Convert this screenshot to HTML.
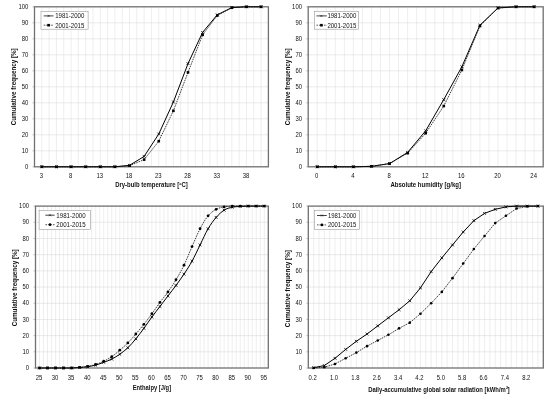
<!DOCTYPE html>
<html><head><meta charset="utf-8"><title>Cumulative frequency charts</title>
<style>
html,body{margin:0;padding:0;background:#fff;}
body{width:550px;height:402px;overflow:hidden;}
svg{display:block;font-family:"Liberation Sans", sans-serif;}
</style></head>
<body>
<svg width="550" height="402" viewBox="0 0 550 402">
<rect width="550" height="402" fill="#fff"/>
<path d="M41.81 6.80 V166.80 M49.12 6.80 V166.80 M56.43 6.80 V166.80 M63.74 6.80 V166.80 M71.05 6.80 V166.80 M78.36 6.80 V166.80 M85.67 6.80 V166.80 M92.97 6.80 V166.80 M100.28 6.80 V166.80 M107.59 6.80 V166.80 M114.90 6.80 V166.80 M122.21 6.80 V166.80 M129.52 6.80 V166.80 M136.83 6.80 V166.80 M144.14 6.80 V166.80 M151.45 6.80 V166.80 M158.76 6.80 V166.80 M166.07 6.80 V166.80 M173.38 6.80 V166.80 M180.69 6.80 V166.80 M188.00 6.80 V166.80 M195.31 6.80 V166.80 M202.62 6.80 V166.80 M209.92 6.80 V166.80 M217.23 6.80 V166.80 M224.54 6.80 V166.80 M231.85 6.80 V166.80 M239.16 6.80 V166.80 M246.47 6.80 V166.80 M253.78 6.80 V166.80 M261.09 6.80 V166.80" stroke="#e3e3e3" stroke-width="0.6" fill="none"/>
<path d="M34.50 22.80 H268.40 M34.50 38.80 H268.40 M34.50 54.80 H268.40 M34.50 70.80 H268.40 M34.50 86.80 H268.40 M34.50 102.80 H268.40 M34.50 118.80 H268.40 M34.50 134.80 H268.40 M34.50 150.80 H268.40" stroke="#dadada" stroke-width="0.6" fill="none"/>
<path d="M32.50 6.80 H34.50 M32.50 22.80 H34.50 M32.50 38.80 H34.50 M32.50 54.80 H34.50 M32.50 70.80 H34.50 M32.50 86.80 H34.50 M32.50 102.80 H34.50 M32.50 118.80 H34.50 M32.50 134.80 H34.50 M32.50 150.80 H34.50 M32.50 166.80 H34.50" stroke="#999" stroke-width="0.6" fill="none"/>
<rect x="34.50" y="6.80" width="233.90" height="160.00" fill="none" stroke="#707070" stroke-width="1.3"/>
<text x="28.30" y="9.00" text-anchor="end" font-size="6.40" fill="#111" textLength="9.90" lengthAdjust="spacingAndGlyphs">100</text>
<text x="28.30" y="25.00" text-anchor="end" font-size="6.40" fill="#111" textLength="6.60" lengthAdjust="spacingAndGlyphs">90</text>
<text x="28.30" y="41.00" text-anchor="end" font-size="6.40" fill="#111" textLength="6.60" lengthAdjust="spacingAndGlyphs">80</text>
<text x="28.30" y="57.00" text-anchor="end" font-size="6.40" fill="#111" textLength="6.60" lengthAdjust="spacingAndGlyphs">70</text>
<text x="28.30" y="73.00" text-anchor="end" font-size="6.40" fill="#111" textLength="6.60" lengthAdjust="spacingAndGlyphs">60</text>
<text x="28.30" y="89.00" text-anchor="end" font-size="6.40" fill="#111" textLength="6.60" lengthAdjust="spacingAndGlyphs">50</text>
<text x="28.30" y="105.00" text-anchor="end" font-size="6.40" fill="#111" textLength="6.60" lengthAdjust="spacingAndGlyphs">40</text>
<text x="28.30" y="121.00" text-anchor="end" font-size="6.40" fill="#111" textLength="6.60" lengthAdjust="spacingAndGlyphs">30</text>
<text x="28.30" y="137.00" text-anchor="end" font-size="6.40" fill="#111" textLength="6.60" lengthAdjust="spacingAndGlyphs">20</text>
<text x="28.30" y="153.00" text-anchor="end" font-size="6.40" fill="#111" textLength="6.60" lengthAdjust="spacingAndGlyphs">10</text>
<text x="28.30" y="169.00" text-anchor="end" font-size="6.40" fill="#111" textLength="3.30" lengthAdjust="spacingAndGlyphs">0</text>
<text x="41.31" y="178.00" text-anchor="middle" font-size="6.40" fill="#111" textLength="3.30" lengthAdjust="spacingAndGlyphs">3</text>
<text x="70.55" y="178.00" text-anchor="middle" font-size="6.40" fill="#111" textLength="3.30" lengthAdjust="spacingAndGlyphs">8</text>
<text x="99.78" y="178.00" text-anchor="middle" font-size="6.40" fill="#111" textLength="6.60" lengthAdjust="spacingAndGlyphs">13</text>
<text x="129.02" y="178.00" text-anchor="middle" font-size="6.40" fill="#111" textLength="6.60" lengthAdjust="spacingAndGlyphs">18</text>
<text x="158.26" y="178.00" text-anchor="middle" font-size="6.40" fill="#111" textLength="6.60" lengthAdjust="spacingAndGlyphs">23</text>
<text x="187.50" y="178.00" text-anchor="middle" font-size="6.40" fill="#111" textLength="6.60" lengthAdjust="spacingAndGlyphs">28</text>
<text x="216.73" y="178.00" text-anchor="middle" font-size="6.40" fill="#111" textLength="6.60" lengthAdjust="spacingAndGlyphs">33</text>
<text x="245.97" y="178.00" text-anchor="middle" font-size="6.40" fill="#111" textLength="6.60" lengthAdjust="spacingAndGlyphs">38</text>
<text x="151.45" y="186.60" text-anchor="middle" font-size="6.40" font-weight="bold" fill="#111" textLength="72.5" lengthAdjust="spacingAndGlyphs">Dry-bulb temperature [&#186;C]</text>
<text transform="translate(16.20 86.80) rotate(-90)" text-anchor="middle" font-size="6.40" font-weight="bold" fill="#111" textLength="77" lengthAdjust="spacingAndGlyphs">Cumulative frequency [%]</text>
<path d="M41.81 166.80 L56.43 166.80 L71.05 166.80 L85.67 166.80 L100.28 166.80 L114.90 166.80 L129.52 165.36 L144.14 156.40 L158.76 134.00 L173.38 102.00 L188.00 63.60 L202.62 32.40 L217.23 14.80 L231.85 7.60 L246.47 6.80 L261.09 6.80" stroke="#000" stroke-width="1" fill="none" stroke-linejoin="round"/>
<path d="M41.81 166.80 L56.43 166.80 L71.05 166.80 L85.67 166.80 L100.28 166.80 L114.90 166.80 L129.52 165.68 L144.14 159.60 L158.76 141.20 L173.38 110.80 L188.00 72.40 L202.62 34.80 L217.23 15.60 L231.85 7.76 L246.47 6.80 L261.09 6.80" stroke="#111" stroke-width="0.8" fill="none" stroke-dasharray="1.6 0.9" stroke-linejoin="round"/>
<path d="M40.41 165.40 l2.80 2.80 M40.41 168.20 l2.80 -2.80 M55.03 165.40 l2.80 2.80 M55.03 168.20 l2.80 -2.80 M69.65 165.40 l2.80 2.80 M69.65 168.20 l2.80 -2.80 M84.27 165.40 l2.80 2.80 M84.27 168.20 l2.80 -2.80 M98.88 165.40 l2.80 2.80 M98.88 168.20 l2.80 -2.80 M113.50 165.40 l2.80 2.80 M113.50 168.20 l2.80 -2.80 M128.12 163.96 l2.80 2.80 M128.12 166.76 l2.80 -2.80 M142.74 155.00 l2.80 2.80 M142.74 157.80 l2.80 -2.80 M157.36 132.60 l2.80 2.80 M157.36 135.40 l2.80 -2.80 M171.98 100.60 l2.80 2.80 M171.98 103.40 l2.80 -2.80 M186.60 62.20 l2.80 2.80 M186.60 65.00 l2.80 -2.80 M201.22 31.00 l2.80 2.80 M201.22 33.80 l2.80 -2.80 M215.83 13.40 l2.80 2.80 M215.83 16.20 l2.80 -2.80 M230.45 6.20 l2.80 2.80 M230.45 9.00 l2.80 -2.80 M245.07 5.40 l2.80 2.80 M245.07 8.20 l2.80 -2.80 M259.69 5.40 l2.80 2.80 M259.69 8.20 l2.80 -2.80" stroke="#000" stroke-width="0.8" fill="none"/>
<rect x="40.51" y="165.50" width="2.6" height="2.6" fill="#000"/>
<rect x="55.13" y="165.50" width="2.6" height="2.6" fill="#000"/>
<rect x="69.75" y="165.50" width="2.6" height="2.6" fill="#000"/>
<rect x="84.37" y="165.50" width="2.6" height="2.6" fill="#000"/>
<rect x="98.98" y="165.50" width="2.6" height="2.6" fill="#000"/>
<rect x="113.60" y="165.50" width="2.6" height="2.6" fill="#000"/>
<rect x="128.22" y="164.38" width="2.6" height="2.6" fill="#000"/>
<rect x="142.84" y="158.30" width="2.6" height="2.6" fill="#000"/>
<rect x="157.46" y="139.90" width="2.6" height="2.6" fill="#000"/>
<rect x="172.08" y="109.50" width="2.6" height="2.6" fill="#000"/>
<rect x="186.70" y="71.10" width="2.6" height="2.6" fill="#000"/>
<rect x="201.32" y="33.50" width="2.6" height="2.6" fill="#000"/>
<rect x="215.93" y="14.30" width="2.6" height="2.6" fill="#000"/>
<rect x="230.55" y="6.46" width="2.6" height="2.6" fill="#000"/>
<rect x="245.17" y="5.50" width="2.6" height="2.6" fill="#000"/>
<rect x="259.79" y="5.50" width="2.6" height="2.6" fill="#000"/>
<rect x="41.00" y="11.30" width="47.10" height="17.90" fill="#fff" stroke="#9a9a9a" stroke-width="0.6"/>
<path d="M43.70 15.90 H53.50" stroke="#111" stroke-width="0.8"/>
<path d="M43.70 25.20 H53.50" stroke="#111" stroke-width="0.7" stroke-dasharray="1.6 0.9"/>
<path d="M47.60 14.90 l2 2 M47.60 16.90 l2 -2" stroke="#111" stroke-width="0.55"/>
<rect x="47.30" y="23.90" width="2.6" height="2.6" fill="#000"/>
<text x="55.20" y="18.40" font-size="7.10" fill="#111" textLength="29.10" lengthAdjust="spacingAndGlyphs">1981-2000</text>
<text x="55.20" y="27.70" font-size="7.10" fill="#111" textLength="29.10" lengthAdjust="spacingAndGlyphs">2001-2015</text>
<path d="M317.24 6.80 V166.80 M326.28 6.80 V166.80 M335.32 6.80 V166.80 M344.35 6.80 V166.80 M353.39 6.80 V166.80 M362.43 6.80 V166.80 M371.47 6.80 V166.80 M380.51 6.80 V166.80 M389.55 6.80 V166.80 M398.58 6.80 V166.80 M407.62 6.80 V166.80 M416.66 6.80 V166.80 M425.70 6.80 V166.80 M434.74 6.80 V166.80 M443.78 6.80 V166.80 M452.82 6.80 V166.80 M461.85 6.80 V166.80 M470.89 6.80 V166.80 M479.93 6.80 V166.80 M488.97 6.80 V166.80 M498.01 6.80 V166.80 M507.05 6.80 V166.80 M516.08 6.80 V166.80 M525.12 6.80 V166.80 M534.16 6.80 V166.80" stroke="#e3e3e3" stroke-width="0.6" fill="none"/>
<path d="M308.20 22.80 H543.20 M308.20 38.80 H543.20 M308.20 54.80 H543.20 M308.20 70.80 H543.20 M308.20 86.80 H543.20 M308.20 102.80 H543.20 M308.20 118.80 H543.20 M308.20 134.80 H543.20 M308.20 150.80 H543.20" stroke="#dadada" stroke-width="0.6" fill="none"/>
<path d="M306.20 6.80 H308.20 M306.20 22.80 H308.20 M306.20 38.80 H308.20 M306.20 54.80 H308.20 M306.20 70.80 H308.20 M306.20 86.80 H308.20 M306.20 102.80 H308.20 M306.20 118.80 H308.20 M306.20 134.80 H308.20 M306.20 150.80 H308.20 M306.20 166.80 H308.20" stroke="#999" stroke-width="0.6" fill="none"/>
<rect x="308.20" y="6.80" width="235.00" height="160.00" fill="none" stroke="#707070" stroke-width="1.3"/>
<text x="302.00" y="9.00" text-anchor="end" font-size="6.40" fill="#111" textLength="9.90" lengthAdjust="spacingAndGlyphs">100</text>
<text x="302.00" y="25.00" text-anchor="end" font-size="6.40" fill="#111" textLength="6.60" lengthAdjust="spacingAndGlyphs">90</text>
<text x="302.00" y="41.00" text-anchor="end" font-size="6.40" fill="#111" textLength="6.60" lengthAdjust="spacingAndGlyphs">80</text>
<text x="302.00" y="57.00" text-anchor="end" font-size="6.40" fill="#111" textLength="6.60" lengthAdjust="spacingAndGlyphs">70</text>
<text x="302.00" y="73.00" text-anchor="end" font-size="6.40" fill="#111" textLength="6.60" lengthAdjust="spacingAndGlyphs">60</text>
<text x="302.00" y="89.00" text-anchor="end" font-size="6.40" fill="#111" textLength="6.60" lengthAdjust="spacingAndGlyphs">50</text>
<text x="302.00" y="105.00" text-anchor="end" font-size="6.40" fill="#111" textLength="6.60" lengthAdjust="spacingAndGlyphs">40</text>
<text x="302.00" y="121.00" text-anchor="end" font-size="6.40" fill="#111" textLength="6.60" lengthAdjust="spacingAndGlyphs">30</text>
<text x="302.00" y="137.00" text-anchor="end" font-size="6.40" fill="#111" textLength="6.60" lengthAdjust="spacingAndGlyphs">20</text>
<text x="302.00" y="153.00" text-anchor="end" font-size="6.40" fill="#111" textLength="6.60" lengthAdjust="spacingAndGlyphs">10</text>
<text x="302.00" y="169.00" text-anchor="end" font-size="6.40" fill="#111" textLength="3.30" lengthAdjust="spacingAndGlyphs">0</text>
<text x="316.74" y="178.00" text-anchor="middle" font-size="6.40" fill="#111" textLength="3.30" lengthAdjust="spacingAndGlyphs">0</text>
<text x="352.89" y="178.00" text-anchor="middle" font-size="6.40" fill="#111" textLength="3.30" lengthAdjust="spacingAndGlyphs">4</text>
<text x="389.05" y="178.00" text-anchor="middle" font-size="6.40" fill="#111" textLength="3.30" lengthAdjust="spacingAndGlyphs">8</text>
<text x="425.20" y="178.00" text-anchor="middle" font-size="6.40" fill="#111" textLength="6.60" lengthAdjust="spacingAndGlyphs">12</text>
<text x="461.35" y="178.00" text-anchor="middle" font-size="6.40" fill="#111" textLength="6.60" lengthAdjust="spacingAndGlyphs">16</text>
<text x="497.51" y="178.00" text-anchor="middle" font-size="6.40" fill="#111" textLength="6.60" lengthAdjust="spacingAndGlyphs">20</text>
<text x="533.66" y="178.00" text-anchor="middle" font-size="6.40" fill="#111" textLength="6.60" lengthAdjust="spacingAndGlyphs">24</text>
<text x="425.70" y="186.60" text-anchor="middle" font-size="6.40" font-weight="bold" fill="#111" textLength="70.5" lengthAdjust="spacingAndGlyphs">Absolute humidity [g/kg]</text>
<text transform="translate(289.50 86.80) rotate(-90)" text-anchor="middle" font-size="6.40" font-weight="bold" fill="#111" textLength="77" lengthAdjust="spacingAndGlyphs">Cumulative frequency [%]</text>
<path d="M317.24 166.80 L335.32 166.80 L353.39 166.80 L371.47 166.32 L389.55 163.60 L407.62 152.40 L425.70 130.80 L443.78 99.60 L461.85 66.80 L479.93 25.20 L498.01 7.92 L516.08 6.80 L534.16 6.80" stroke="#000" stroke-width="1" fill="none" stroke-linejoin="round"/>
<path d="M317.24 166.80 L335.32 166.80 L353.39 166.80 L371.47 166.32 L389.55 163.60 L407.62 153.20 L425.70 133.20 L443.78 106.00 L461.85 70.00 L479.93 26.00 L498.01 8.08 L516.08 6.80 L534.16 6.80" stroke="#111" stroke-width="0.8" fill="none" stroke-dasharray="1.6 0.9" stroke-linejoin="round"/>
<path d="M315.84 165.40 l2.80 2.80 M315.84 168.20 l2.80 -2.80 M333.92 165.40 l2.80 2.80 M333.92 168.20 l2.80 -2.80 M351.99 165.40 l2.80 2.80 M351.99 168.20 l2.80 -2.80 M370.07 164.92 l2.80 2.80 M370.07 167.72 l2.80 -2.80 M388.15 162.20 l2.80 2.80 M388.15 165.00 l2.80 -2.80 M406.22 151.00 l2.80 2.80 M406.22 153.80 l2.80 -2.80 M424.30 129.40 l2.80 2.80 M424.30 132.20 l2.80 -2.80 M442.38 98.20 l2.80 2.80 M442.38 101.00 l2.80 -2.80 M460.45 65.40 l2.80 2.80 M460.45 68.20 l2.80 -2.80 M478.53 23.80 l2.80 2.80 M478.53 26.60 l2.80 -2.80 M496.61 6.52 l2.80 2.80 M496.61 9.32 l2.80 -2.80 M514.68 5.40 l2.80 2.80 M514.68 8.20 l2.80 -2.80 M532.76 5.40 l2.80 2.80 M532.76 8.20 l2.80 -2.80" stroke="#000" stroke-width="0.8" fill="none"/>
<rect x="315.94" y="165.50" width="2.6" height="2.6" fill="#000"/>
<rect x="334.02" y="165.50" width="2.6" height="2.6" fill="#000"/>
<rect x="352.09" y="165.50" width="2.6" height="2.6" fill="#000"/>
<rect x="370.17" y="165.02" width="2.6" height="2.6" fill="#000"/>
<rect x="388.25" y="162.30" width="2.6" height="2.6" fill="#000"/>
<rect x="406.32" y="151.90" width="2.6" height="2.6" fill="#000"/>
<rect x="424.40" y="131.90" width="2.6" height="2.6" fill="#000"/>
<rect x="442.48" y="104.70" width="2.6" height="2.6" fill="#000"/>
<rect x="460.55" y="68.70" width="2.6" height="2.6" fill="#000"/>
<rect x="478.63" y="24.70" width="2.6" height="2.6" fill="#000"/>
<rect x="496.71" y="6.78" width="2.6" height="2.6" fill="#000"/>
<rect x="514.78" y="5.50" width="2.6" height="2.6" fill="#000"/>
<rect x="532.86" y="5.50" width="2.6" height="2.6" fill="#000"/>
<rect x="314.30" y="11.30" width="44.40" height="17.90" fill="#fff" stroke="#9a9a9a" stroke-width="0.6"/>
<path d="M316.50 15.90 H326.80" stroke="#111" stroke-width="0.8"/>
<path d="M316.50 25.20 H326.80" stroke="#111" stroke-width="0.7" stroke-dasharray="1.6 0.9"/>
<path d="M320.40 14.90 l2 2 M320.40 16.90 l2 -2" stroke="#111" stroke-width="0.55"/>
<rect x="320.10" y="23.90" width="2.6" height="2.6" fill="#000"/>
<text x="327.40" y="18.40" font-size="7.10" fill="#111" textLength="28.90" lengthAdjust="spacingAndGlyphs">1981-2000</text>
<text x="327.40" y="27.70" font-size="7.10" fill="#111" textLength="28.90" lengthAdjust="spacingAndGlyphs">2001-2015</text>
<path d="M39.51 206.10 V368.00 M43.53 206.10 V368.00 M47.54 206.10 V368.00 M51.56 206.10 V368.00 M55.57 206.10 V368.00 M59.58 206.10 V368.00 M63.60 206.10 V368.00 M67.61 206.10 V368.00 M71.62 206.10 V368.00 M75.64 206.10 V368.00 M79.65 206.10 V368.00 M83.67 206.10 V368.00 M87.68 206.10 V368.00 M91.69 206.10 V368.00 M95.71 206.10 V368.00 M99.72 206.10 V368.00 M103.73 206.10 V368.00 M107.75 206.10 V368.00 M111.76 206.10 V368.00 M115.78 206.10 V368.00 M119.79 206.10 V368.00 M123.80 206.10 V368.00 M127.82 206.10 V368.00 M131.83 206.10 V368.00 M135.84 206.10 V368.00 M139.86 206.10 V368.00 M143.87 206.10 V368.00 M147.89 206.10 V368.00 M151.90 206.10 V368.00 M155.91 206.10 V368.00 M159.93 206.10 V368.00 M163.94 206.10 V368.00 M167.96 206.10 V368.00 M171.97 206.10 V368.00 M175.98 206.10 V368.00 M180.00 206.10 V368.00 M184.01 206.10 V368.00 M188.02 206.10 V368.00 M192.04 206.10 V368.00 M196.05 206.10 V368.00 M200.07 206.10 V368.00 M204.08 206.10 V368.00 M208.09 206.10 V368.00 M212.11 206.10 V368.00 M216.12 206.10 V368.00 M220.13 206.10 V368.00 M224.15 206.10 V368.00 M228.16 206.10 V368.00 M232.18 206.10 V368.00 M236.19 206.10 V368.00 M240.20 206.10 V368.00 M244.22 206.10 V368.00 M248.23 206.10 V368.00 M252.24 206.10 V368.00 M256.26 206.10 V368.00 M260.27 206.10 V368.00 M264.29 206.10 V368.00" stroke="#e3e3e3" stroke-width="0.6" fill="none"/>
<path d="M35.50 222.29 H268.30 M35.50 238.48 H268.30 M35.50 254.67 H268.30 M35.50 270.86 H268.30 M35.50 287.05 H268.30 M35.50 303.24 H268.30 M35.50 319.43 H268.30 M35.50 335.62 H268.30 M35.50 351.81 H268.30" stroke="#dadada" stroke-width="0.6" fill="none"/>
<path d="M33.50 206.10 H35.50 M33.50 222.29 H35.50 M33.50 238.48 H35.50 M33.50 254.67 H35.50 M33.50 270.86 H35.50 M33.50 287.05 H35.50 M33.50 303.24 H35.50 M33.50 319.43 H35.50 M33.50 335.62 H35.50 M33.50 351.81 H35.50 M33.50 368.00 H35.50" stroke="#999" stroke-width="0.6" fill="none"/>
<rect x="35.50" y="206.10" width="232.80" height="161.90" fill="none" stroke="#707070" stroke-width="1.3"/>
<text x="29.00" y="208.30" text-anchor="end" font-size="6.40" fill="#111" textLength="9.90" lengthAdjust="spacingAndGlyphs">100</text>
<text x="29.00" y="224.49" text-anchor="end" font-size="6.40" fill="#111" textLength="6.60" lengthAdjust="spacingAndGlyphs">90</text>
<text x="29.00" y="240.68" text-anchor="end" font-size="6.40" fill="#111" textLength="6.60" lengthAdjust="spacingAndGlyphs">80</text>
<text x="29.00" y="256.87" text-anchor="end" font-size="6.40" fill="#111" textLength="6.60" lengthAdjust="spacingAndGlyphs">70</text>
<text x="29.00" y="273.06" text-anchor="end" font-size="6.40" fill="#111" textLength="6.60" lengthAdjust="spacingAndGlyphs">60</text>
<text x="29.00" y="289.25" text-anchor="end" font-size="6.40" fill="#111" textLength="6.60" lengthAdjust="spacingAndGlyphs">50</text>
<text x="29.00" y="305.44" text-anchor="end" font-size="6.40" fill="#111" textLength="6.60" lengthAdjust="spacingAndGlyphs">40</text>
<text x="29.00" y="321.63" text-anchor="end" font-size="6.40" fill="#111" textLength="6.60" lengthAdjust="spacingAndGlyphs">30</text>
<text x="29.00" y="337.82" text-anchor="end" font-size="6.40" fill="#111" textLength="6.60" lengthAdjust="spacingAndGlyphs">20</text>
<text x="29.00" y="354.01" text-anchor="end" font-size="6.40" fill="#111" textLength="6.60" lengthAdjust="spacingAndGlyphs">10</text>
<text x="29.00" y="370.20" text-anchor="end" font-size="6.40" fill="#111" textLength="3.30" lengthAdjust="spacingAndGlyphs">0</text>
<text x="39.01" y="380.00" text-anchor="middle" font-size="6.40" fill="#111" textLength="6.60" lengthAdjust="spacingAndGlyphs">25</text>
<text x="55.07" y="380.00" text-anchor="middle" font-size="6.40" fill="#111" textLength="6.60" lengthAdjust="spacingAndGlyphs">30</text>
<text x="71.12" y="380.00" text-anchor="middle" font-size="6.40" fill="#111" textLength="6.60" lengthAdjust="spacingAndGlyphs">35</text>
<text x="87.18" y="380.00" text-anchor="middle" font-size="6.40" fill="#111" textLength="6.60" lengthAdjust="spacingAndGlyphs">40</text>
<text x="103.23" y="380.00" text-anchor="middle" font-size="6.40" fill="#111" textLength="6.60" lengthAdjust="spacingAndGlyphs">45</text>
<text x="119.29" y="380.00" text-anchor="middle" font-size="6.40" fill="#111" textLength="6.60" lengthAdjust="spacingAndGlyphs">50</text>
<text x="135.34" y="380.00" text-anchor="middle" font-size="6.40" fill="#111" textLength="6.60" lengthAdjust="spacingAndGlyphs">55</text>
<text x="151.40" y="380.00" text-anchor="middle" font-size="6.40" fill="#111" textLength="6.60" lengthAdjust="spacingAndGlyphs">60</text>
<text x="167.46" y="380.00" text-anchor="middle" font-size="6.40" fill="#111" textLength="6.60" lengthAdjust="spacingAndGlyphs">65</text>
<text x="183.51" y="380.00" text-anchor="middle" font-size="6.40" fill="#111" textLength="6.60" lengthAdjust="spacingAndGlyphs">70</text>
<text x="199.57" y="380.00" text-anchor="middle" font-size="6.40" fill="#111" textLength="6.60" lengthAdjust="spacingAndGlyphs">75</text>
<text x="215.62" y="380.00" text-anchor="middle" font-size="6.40" fill="#111" textLength="6.60" lengthAdjust="spacingAndGlyphs">80</text>
<text x="231.68" y="380.00" text-anchor="middle" font-size="6.40" fill="#111" textLength="6.60" lengthAdjust="spacingAndGlyphs">85</text>
<text x="247.73" y="380.00" text-anchor="middle" font-size="6.40" fill="#111" textLength="6.60" lengthAdjust="spacingAndGlyphs">90</text>
<text x="263.79" y="380.00" text-anchor="middle" font-size="6.40" fill="#111" textLength="6.60" lengthAdjust="spacingAndGlyphs">95</text>
<text x="151.90" y="389.90" text-anchor="middle" font-size="6.40" font-weight="bold" fill="#111" textLength="38.4" lengthAdjust="spacingAndGlyphs">Enthalpy [J/g]</text>
<text transform="translate(17.00 287.85) rotate(-90)" text-anchor="middle" font-size="6.40" font-weight="bold" fill="#111" textLength="77" lengthAdjust="spacingAndGlyphs">Cumulative frequency [%]</text>
<path d="M39.51 368.00 C40.85 368.00 44.87 368.00 47.54 368.00 C50.22 368.00 52.89 368.00 55.57 368.00 C58.24 368.00 60.92 368.00 63.60 368.00 C66.27 368.00 68.95 368.08 71.62 368.00 C74.30 367.92 76.98 367.73 79.65 367.51 C82.33 367.30 85.00 367.11 87.68 366.70 C90.36 366.30 93.03 365.81 95.71 365.09 C98.38 364.36 101.06 363.33 103.73 362.33 C106.41 361.34 109.09 360.44 111.76 359.10 C114.44 357.75 117.11 356.13 119.79 354.24 C122.47 352.35 125.14 350.33 127.82 347.76 C130.49 345.20 133.17 342.10 135.84 338.86 C138.52 335.62 141.20 331.98 143.87 328.33 C146.55 324.69 149.22 320.64 151.90 317.00 C154.58 313.36 157.25 309.99 159.93 306.48 C162.60 302.97 165.28 299.46 167.96 295.95 C170.63 292.45 173.31 289.07 175.98 285.43 C178.66 281.79 181.33 278.15 184.01 274.10 C186.69 270.05 189.36 266.00 192.04 261.15 C194.71 256.29 197.39 250.35 200.07 244.96 C202.74 239.56 205.42 233.35 208.09 228.77 C210.77 224.18 213.44 220.54 216.12 217.43 C218.80 214.33 221.47 211.85 224.15 210.15 C226.82 208.45 229.50 207.85 232.18 207.23 C234.85 206.61 237.53 206.61 240.20 206.42 C242.88 206.23 245.56 206.15 248.23 206.10 C250.91 206.05 253.58 206.10 256.26 206.10 C258.93 206.10 262.95 206.10 264.29 206.10" stroke="#000" stroke-width="1" fill="none" stroke-linejoin="round"/>
<path d="M39.51 368.00 C40.85 368.00 44.87 368.00 47.54 368.00 C50.22 368.00 52.89 368.00 55.57 368.00 C58.24 368.00 60.92 368.00 63.60 368.00 C66.27 368.00 68.95 368.11 71.62 368.00 C74.30 367.89 76.98 367.62 79.65 367.35 C82.33 367.08 85.00 366.87 87.68 366.38 C90.36 365.90 93.03 365.30 95.71 364.44 C98.38 363.57 101.06 362.50 103.73 361.20 C106.41 359.90 109.09 358.50 111.76 356.67 C114.44 354.83 117.11 352.48 119.79 350.19 C122.47 347.90 125.14 345.60 127.82 342.91 C130.49 340.21 133.17 337.10 135.84 334.00 C138.52 330.90 141.20 327.66 143.87 324.29 C146.55 320.91 149.22 317.41 151.90 313.76 C154.58 310.12 157.25 306.07 159.93 302.43 C162.60 298.79 165.28 295.68 167.96 291.91 C170.63 288.13 173.31 284.22 175.98 279.76 C178.66 275.31 181.33 270.73 184.01 265.19 C186.69 259.66 189.36 252.65 192.04 246.57 C194.71 240.50 197.39 233.89 200.07 228.77 C202.74 223.64 205.42 219.05 208.09 215.81 C210.77 212.58 213.44 210.82 216.12 209.34 C218.80 207.85 221.47 207.45 224.15 206.91 C226.82 206.37 229.50 206.23 232.18 206.10 C234.85 205.97 237.53 206.10 240.20 206.10 C242.88 206.10 245.56 206.10 248.23 206.10 C250.91 206.10 253.58 206.10 256.26 206.10 C258.93 206.10 262.95 206.10 264.29 206.10" stroke="#111" stroke-width="0.8" fill="none" stroke-dasharray="1.6 0.9" stroke-linejoin="round"/>
<path d="M38.11 366.60 l2.80 2.80 M38.11 369.40 l2.80 -2.80 M46.14 366.60 l2.80 2.80 M46.14 369.40 l2.80 -2.80 M54.17 366.60 l2.80 2.80 M54.17 369.40 l2.80 -2.80 M62.20 366.60 l2.80 2.80 M62.20 369.40 l2.80 -2.80 M70.22 366.60 l2.80 2.80 M70.22 369.40 l2.80 -2.80 M78.25 366.11 l2.80 2.80 M78.25 368.91 l2.80 -2.80 M86.28 365.30 l2.80 2.80 M86.28 368.10 l2.80 -2.80 M94.31 363.69 l2.80 2.80 M94.31 366.49 l2.80 -2.80 M102.33 360.93 l2.80 2.80 M102.33 363.73 l2.80 -2.80 M110.36 357.70 l2.80 2.80 M110.36 360.50 l2.80 -2.80 M118.39 352.84 l2.80 2.80 M118.39 355.64 l2.80 -2.80 M126.42 346.36 l2.80 2.80 M126.42 349.16 l2.80 -2.80 M134.44 337.46 l2.80 2.80 M134.44 340.26 l2.80 -2.80 M142.47 326.93 l2.80 2.80 M142.47 329.73 l2.80 -2.80 M150.50 315.60 l2.80 2.80 M150.50 318.40 l2.80 -2.80 M158.53 305.08 l2.80 2.80 M158.53 307.88 l2.80 -2.80 M166.56 294.55 l2.80 2.80 M166.56 297.35 l2.80 -2.80 M174.58 284.03 l2.80 2.80 M174.58 286.83 l2.80 -2.80 M182.61 272.70 l2.80 2.80 M182.61 275.50 l2.80 -2.80 M190.64 259.75 l2.80 2.80 M190.64 262.55 l2.80 -2.80 M198.67 243.56 l2.80 2.80 M198.67 246.36 l2.80 -2.80 M206.69 227.37 l2.80 2.80 M206.69 230.17 l2.80 -2.80 M214.72 216.03 l2.80 2.80 M214.72 218.83 l2.80 -2.80 M222.75 208.75 l2.80 2.80 M222.75 211.55 l2.80 -2.80 M230.78 205.83 l2.80 2.80 M230.78 208.63 l2.80 -2.80 M238.80 205.02 l2.80 2.80 M238.80 207.82 l2.80 -2.80 M246.83 204.70 l2.80 2.80 M246.83 207.50 l2.80 -2.80 M254.86 204.70 l2.80 2.80 M254.86 207.50 l2.80 -2.80 M262.89 204.70 l2.80 2.80 M262.89 207.50 l2.80 -2.80" stroke="#000" stroke-width="0.8" fill="none"/>
<circle cx="39.51" cy="368.00" r="1.4" fill="#000"/>
<circle cx="47.54" cy="368.00" r="1.4" fill="#000"/>
<circle cx="55.57" cy="368.00" r="1.4" fill="#000"/>
<circle cx="63.60" cy="368.00" r="1.4" fill="#000"/>
<circle cx="71.62" cy="368.00" r="1.4" fill="#000"/>
<circle cx="79.65" cy="367.35" r="1.4" fill="#000"/>
<circle cx="87.68" cy="366.38" r="1.4" fill="#000"/>
<circle cx="95.71" cy="364.44" r="1.4" fill="#000"/>
<circle cx="103.73" cy="361.20" r="1.4" fill="#000"/>
<circle cx="111.76" cy="356.67" r="1.4" fill="#000"/>
<circle cx="119.79" cy="350.19" r="1.4" fill="#000"/>
<circle cx="127.82" cy="342.91" r="1.4" fill="#000"/>
<circle cx="135.84" cy="334.00" r="1.4" fill="#000"/>
<circle cx="143.87" cy="324.29" r="1.4" fill="#000"/>
<circle cx="151.90" cy="313.76" r="1.4" fill="#000"/>
<circle cx="159.93" cy="302.43" r="1.4" fill="#000"/>
<circle cx="167.96" cy="291.91" r="1.4" fill="#000"/>
<circle cx="175.98" cy="279.76" r="1.4" fill="#000"/>
<circle cx="184.01" cy="265.19" r="1.4" fill="#000"/>
<circle cx="192.04" cy="246.57" r="1.4" fill="#000"/>
<circle cx="200.07" cy="228.77" r="1.4" fill="#000"/>
<circle cx="208.09" cy="215.81" r="1.4" fill="#000"/>
<circle cx="216.12" cy="209.34" r="1.4" fill="#000"/>
<circle cx="224.15" cy="206.91" r="1.4" fill="#000"/>
<circle cx="232.18" cy="206.10" r="1.4" fill="#000"/>
<circle cx="240.20" cy="206.10" r="1.4" fill="#000"/>
<circle cx="248.23" cy="206.10" r="1.4" fill="#000"/>
<circle cx="256.26" cy="206.10" r="1.4" fill="#000"/>
<circle cx="264.29" cy="206.10" r="1.4" fill="#000"/>
<rect x="39.10" y="210.50" width="51.50" height="18.80" fill="#fff" stroke="#9a9a9a" stroke-width="0.6"/>
<path d="M45.40 215.20 H54.60" stroke="#111" stroke-width="0.8"/>
<path d="M45.40 224.70 H54.60" stroke="#111" stroke-width="0.7" stroke-dasharray="1.6 0.9"/>
<path d="M49.00 214.20 l2 2 M49.00 216.20 l2 -2" stroke="#111" stroke-width="0.55"/>
<circle cx="50.00" cy="224.70" r="1.35" fill="#000"/>
<text x="56.30" y="217.70" font-size="7.10" fill="#111" textLength="29.40" lengthAdjust="spacingAndGlyphs">1981-2000</text>
<text x="56.30" y="227.20" font-size="7.10" fill="#111" textLength="29.40" lengthAdjust="spacingAndGlyphs">2001-2015</text>
<path d="M313.64 206.10 V368.00 M318.98 206.10 V368.00 M324.32 206.10 V368.00 M329.66 206.10 V368.00 M335.00 206.10 V368.00 M340.35 206.10 V368.00 M345.69 206.10 V368.00 M351.03 206.10 V368.00 M356.37 206.10 V368.00 M361.71 206.10 V368.00 M367.05 206.10 V368.00 M372.39 206.10 V368.00 M377.73 206.10 V368.00 M383.07 206.10 V368.00 M388.41 206.10 V368.00 M393.75 206.10 V368.00 M399.10 206.10 V368.00 M404.44 206.10 V368.00 M409.78 206.10 V368.00 M415.12 206.10 V368.00 M420.46 206.10 V368.00 M425.80 206.10 V368.00 M431.14 206.10 V368.00 M436.48 206.10 V368.00 M441.82 206.10 V368.00 M447.16 206.10 V368.00 M452.50 206.10 V368.00 M457.85 206.10 V368.00 M463.19 206.10 V368.00 M468.53 206.10 V368.00 M473.87 206.10 V368.00 M479.21 206.10 V368.00 M484.55 206.10 V368.00 M489.89 206.10 V368.00 M495.23 206.10 V368.00 M500.57 206.10 V368.00 M505.91 206.10 V368.00 M511.25 206.10 V368.00 M516.60 206.10 V368.00 M521.94 206.10 V368.00 M527.28 206.10 V368.00 M532.62 206.10 V368.00 M537.96 206.10 V368.00" stroke="#e3e3e3" stroke-width="0.6" fill="none"/>
<path d="M308.30 222.29 H543.30 M308.30 238.48 H543.30 M308.30 254.67 H543.30 M308.30 270.86 H543.30 M308.30 287.05 H543.30 M308.30 303.24 H543.30 M308.30 319.43 H543.30 M308.30 335.62 H543.30 M308.30 351.81 H543.30" stroke="#dadada" stroke-width="0.6" fill="none"/>
<path d="M306.30 206.10 H308.30 M306.30 222.29 H308.30 M306.30 238.48 H308.30 M306.30 254.67 H308.30 M306.30 270.86 H308.30 M306.30 287.05 H308.30 M306.30 303.24 H308.30 M306.30 319.43 H308.30 M306.30 335.62 H308.30 M306.30 351.81 H308.30 M306.30 368.00 H308.30" stroke="#999" stroke-width="0.6" fill="none"/>
<rect x="308.30" y="206.10" width="235.00" height="161.90" fill="none" stroke="#707070" stroke-width="1.3"/>
<text x="302.00" y="208.30" text-anchor="end" font-size="6.40" fill="#111" textLength="9.90" lengthAdjust="spacingAndGlyphs">100</text>
<text x="302.00" y="224.49" text-anchor="end" font-size="6.40" fill="#111" textLength="6.60" lengthAdjust="spacingAndGlyphs">90</text>
<text x="302.00" y="240.68" text-anchor="end" font-size="6.40" fill="#111" textLength="6.60" lengthAdjust="spacingAndGlyphs">80</text>
<text x="302.00" y="256.87" text-anchor="end" font-size="6.40" fill="#111" textLength="6.60" lengthAdjust="spacingAndGlyphs">70</text>
<text x="302.00" y="273.06" text-anchor="end" font-size="6.40" fill="#111" textLength="6.60" lengthAdjust="spacingAndGlyphs">60</text>
<text x="302.00" y="289.25" text-anchor="end" font-size="6.40" fill="#111" textLength="6.60" lengthAdjust="spacingAndGlyphs">50</text>
<text x="302.00" y="305.44" text-anchor="end" font-size="6.40" fill="#111" textLength="6.60" lengthAdjust="spacingAndGlyphs">40</text>
<text x="302.00" y="321.63" text-anchor="end" font-size="6.40" fill="#111" textLength="6.60" lengthAdjust="spacingAndGlyphs">30</text>
<text x="302.00" y="337.82" text-anchor="end" font-size="6.40" fill="#111" textLength="6.60" lengthAdjust="spacingAndGlyphs">20</text>
<text x="302.00" y="354.01" text-anchor="end" font-size="6.40" fill="#111" textLength="6.60" lengthAdjust="spacingAndGlyphs">10</text>
<text x="302.00" y="370.20" text-anchor="end" font-size="6.40" fill="#111" textLength="3.30" lengthAdjust="spacingAndGlyphs">0</text>
<text x="312.64" y="379.90" text-anchor="middle" font-size="6.40" fill="#111" textLength="8.20" lengthAdjust="spacingAndGlyphs">0.2</text>
<text x="334.00" y="379.90" text-anchor="middle" font-size="6.40" fill="#111" textLength="8.20" lengthAdjust="spacingAndGlyphs">1.0</text>
<text x="355.37" y="379.90" text-anchor="middle" font-size="6.40" fill="#111" textLength="8.20" lengthAdjust="spacingAndGlyphs">1.8</text>
<text x="376.73" y="379.90" text-anchor="middle" font-size="6.40" fill="#111" textLength="8.20" lengthAdjust="spacingAndGlyphs">2.6</text>
<text x="398.10" y="379.90" text-anchor="middle" font-size="6.40" fill="#111" textLength="8.20" lengthAdjust="spacingAndGlyphs">3.4</text>
<text x="419.46" y="379.90" text-anchor="middle" font-size="6.40" fill="#111" textLength="8.20" lengthAdjust="spacingAndGlyphs">4.2</text>
<text x="440.82" y="379.90" text-anchor="middle" font-size="6.40" fill="#111" textLength="8.20" lengthAdjust="spacingAndGlyphs">5.0</text>
<text x="462.19" y="379.90" text-anchor="middle" font-size="6.40" fill="#111" textLength="8.20" lengthAdjust="spacingAndGlyphs">5.8</text>
<text x="483.55" y="379.90" text-anchor="middle" font-size="6.40" fill="#111" textLength="8.20" lengthAdjust="spacingAndGlyphs">6.6</text>
<text x="504.91" y="379.90" text-anchor="middle" font-size="6.40" fill="#111" textLength="8.20" lengthAdjust="spacingAndGlyphs">7.4</text>
<text x="526.28" y="379.90" text-anchor="middle" font-size="6.40" fill="#111" textLength="8.20" lengthAdjust="spacingAndGlyphs">8.2</text>
<text x="368.2" y="391.8" font-size="6.4" font-weight="bold" fill="#111" textLength="137.6" lengthAdjust="spacingAndGlyphs">Daily-accumulative global solar radiation [kWh/m</text><text x="505.9" y="389.2" font-size="3.6" font-weight="bold" fill="#111">2</text><text x="507.6" y="391.8" font-size="6.4" font-weight="bold" fill="#111">]</text>
<text transform="translate(290.20 288.65) rotate(-90)" text-anchor="middle" font-size="6.40" font-weight="bold" fill="#111" textLength="77" lengthAdjust="spacingAndGlyphs">Cumulative frequency [%]</text>
<path d="M313.64 367.68 L324.32 365.57 L335.00 358.29 L345.69 349.38 L356.37 341.29 L367.05 334.00 L377.73 325.91 L388.41 317.81 L399.10 309.72 L409.78 300.81 L420.46 287.86 L431.14 271.67 L441.82 257.91 L452.50 244.96 L463.19 232.00 L473.87 220.67 L484.55 213.39 L495.23 209.34 L505.91 206.91 L516.60 206.10 L527.28 206.10 L537.96 206.10" stroke="#000" stroke-width="1" fill="none" stroke-linejoin="round"/>
<path d="M313.64 368.00 L324.32 367.19 L335.00 363.95 L345.69 358.29 L356.37 352.62 L367.05 346.14 L377.73 340.48 L388.41 334.81 L399.10 328.33 L409.78 322.67 L420.46 313.76 L431.14 303.24 L441.82 291.91 L452.50 278.15 L463.19 263.57 L473.87 249.00 L484.55 236.05 L495.23 223.10 L505.91 215.81 L516.60 208.53 L527.28 206.42 L537.96 206.10" stroke="#111" stroke-width="0.8" fill="none" stroke-dasharray="1.6 0.9" stroke-linejoin="round"/>
<path d="M312.24 366.28 l2.80 2.80 M312.24 369.08 l2.80 -2.80 M322.92 364.17 l2.80 2.80 M322.92 366.97 l2.80 -2.80 M333.60 356.89 l2.80 2.80 M333.60 359.69 l2.80 -2.80 M344.29 347.98 l2.80 2.80 M344.29 350.78 l2.80 -2.80 M354.97 339.89 l2.80 2.80 M354.97 342.69 l2.80 -2.80 M365.65 332.60 l2.80 2.80 M365.65 335.40 l2.80 -2.80 M376.33 324.51 l2.80 2.80 M376.33 327.31 l2.80 -2.80 M387.01 316.41 l2.80 2.80 M387.01 319.21 l2.80 -2.80 M397.70 308.32 l2.80 2.80 M397.70 311.12 l2.80 -2.80 M408.38 299.41 l2.80 2.80 M408.38 302.21 l2.80 -2.80 M419.06 286.46 l2.80 2.80 M419.06 289.26 l2.80 -2.80 M429.74 270.27 l2.80 2.80 M429.74 273.07 l2.80 -2.80 M440.42 256.51 l2.80 2.80 M440.42 259.31 l2.80 -2.80 M451.10 243.56 l2.80 2.80 M451.10 246.36 l2.80 -2.80 M461.79 230.60 l2.80 2.80 M461.79 233.40 l2.80 -2.80 M472.47 219.27 l2.80 2.80 M472.47 222.07 l2.80 -2.80 M483.15 211.99 l2.80 2.80 M483.15 214.79 l2.80 -2.80 M493.83 207.94 l2.80 2.80 M493.83 210.74 l2.80 -2.80 M504.51 205.51 l2.80 2.80 M504.51 208.31 l2.80 -2.80 M515.20 204.70 l2.80 2.80 M515.20 207.50 l2.80 -2.80 M525.88 204.70 l2.80 2.80 M525.88 207.50 l2.80 -2.80 M536.56 204.70 l2.80 2.80 M536.56 207.50 l2.80 -2.80" stroke="#000" stroke-width="0.8" fill="none"/>
<circle cx="313.64" cy="368.00" r="1.3" fill="#000"/>
<circle cx="324.32" cy="367.19" r="1.3" fill="#000"/>
<circle cx="335.00" cy="363.95" r="1.3" fill="#000"/>
<circle cx="345.69" cy="358.29" r="1.3" fill="#000"/>
<circle cx="356.37" cy="352.62" r="1.3" fill="#000"/>
<circle cx="367.05" cy="346.14" r="1.3" fill="#000"/>
<circle cx="377.73" cy="340.48" r="1.3" fill="#000"/>
<circle cx="388.41" cy="334.81" r="1.3" fill="#000"/>
<circle cx="399.10" cy="328.33" r="1.3" fill="#000"/>
<circle cx="409.78" cy="322.67" r="1.3" fill="#000"/>
<circle cx="420.46" cy="313.76" r="1.3" fill="#000"/>
<circle cx="431.14" cy="303.24" r="1.3" fill="#000"/>
<circle cx="441.82" cy="291.91" r="1.3" fill="#000"/>
<circle cx="452.50" cy="278.15" r="1.3" fill="#000"/>
<circle cx="463.19" cy="263.57" r="1.3" fill="#000"/>
<circle cx="473.87" cy="249.00" r="1.3" fill="#000"/>
<circle cx="484.55" cy="236.05" r="1.3" fill="#000"/>
<circle cx="495.23" cy="223.10" r="1.3" fill="#000"/>
<circle cx="505.91" cy="215.81" r="1.3" fill="#000"/>
<circle cx="516.60" cy="208.53" r="1.3" fill="#000"/>
<circle cx="527.28" cy="206.42" r="1.3" fill="#000"/>
<circle cx="537.96" cy="206.10" r="1.3" fill="#000"/>
<rect x="314.30" y="210.50" width="45.00" height="19.10" fill="#fff" stroke="#9a9a9a" stroke-width="0.6"/>
<path d="M317.00 215.50 H326.80" stroke="#111" stroke-width="0.8"/>
<path d="M317.00 224.90 H326.80" stroke="#111" stroke-width="0.7" stroke-dasharray="1.6 0.9"/>
<path d="M320.90 214.50 l2 2 M320.90 216.50 l2 -2" stroke="#111" stroke-width="0.55"/>
<circle cx="321.90" cy="224.90" r="1.35" fill="#000"/>
<text x="327.90" y="218.00" font-size="7.10" fill="#111" textLength="28.40" lengthAdjust="spacingAndGlyphs">1981-2000</text>
<text x="327.90" y="227.40" font-size="7.10" fill="#111" textLength="28.40" lengthAdjust="spacingAndGlyphs">2001-2015</text>
</svg>
</body></html>
